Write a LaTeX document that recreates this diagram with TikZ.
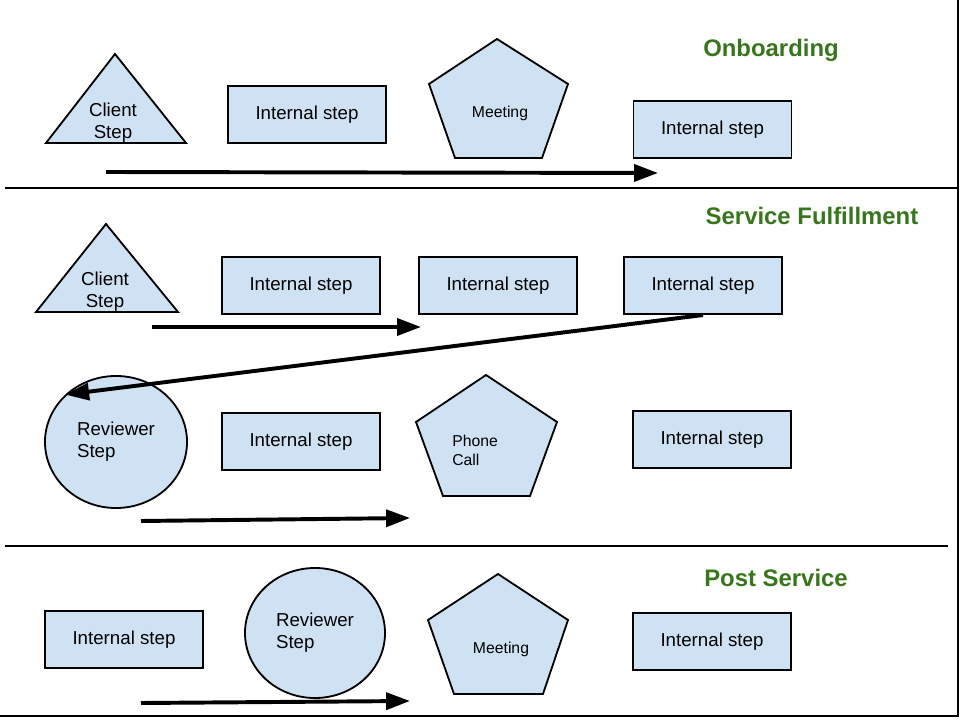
\documentclass[tikz,border=0pt]{standalone}
\usepackage{fontspec}
\setmainfont{Liberation Sans}
\usetikzlibrary{arrows.meta,shapes.geometric}
\definecolor{stepblue}{HTML}{CFE2F3}
\definecolor{lanegreen}{HTML}{38761D}
\begin{document}
\begin{tikzpicture}[x=0.025cm, y=-0.025cm, >={Triangle[length=17pt,width=12pt]},
    stepbox/.style={draw, fill=stepblue, line width=1.3pt, minimum width=3.95cm, minimum height=1.43cm, font=\fontsize{13.3}{15.5}\selectfont},
    stepshape/.style={draw, fill=stepblue, line width=1.3pt},
    reviewer/.style={ellipse, draw, fill=stepblue, line width=1.3pt, inner sep=0pt, align=left, font=\fontsize{13.3}{15.5}\selectfont},
    steptext/.style={inner sep=0pt, align=center, font=\fontsize{13.3}{15.5}\selectfont},
    smalltext/.style={inner sep=0pt, font=\fontsize{11.2}{13.8}\selectfont},
    lane/.style={inner sep=0pt, font=\fontsize{17}{20}\selectfont\bfseries, text=lanegreen},
    flow/.style={->, line width=2.8pt},
    divider/.style={line width=1.4pt}]
    \useasboundingbox (0,0) rectangle (960,720);
    % frame and lanes
    \draw[divider] (958,0) -- (958,716) -- (0,716);
    \draw[divider] (5,188) -- (958,188);
    \draw[divider] (5,546) -- (948,546);
    \node[lane] (onb) at (771,50) {Onboarding};
    \node[lane] (serv) at (812,216) {Service Fulfillment};
    \node[lane] (post) at (776,578) {Post Service};
    % onboarding
    \draw[stepshape] (115,54) -- (186,143) -- (46,143) -- cycle;
    \node[steptext] (ob1) at (113,123) {Client\\Step};
    \node[stepbox] (ob2) at (307,114.5) {Internal step};
    \draw[stepshape] (497,39) -- (568,84) -- (542,158) -- (455,158) -- (429,84) -- cycle;
    \node[smalltext] (ob3) at (500,113) {Meeting};
    \node[stepbox] (ob4) at (712.5,129.5) {Internal step};
    \coordinate (oba) at (106,172);
    \coordinate (obb) at (658,173);
    \draw[flow] (oba) -- (obb);
    % service fulfillment
    \draw[stepshape] (106,224) -- (178,312) -- (36,312) -- cycle;
    \node[steptext] (sf1) at (105,292) {Client\\Step};
    \node[stepbox] (sf2) at (301,285.5) {Internal step};
    \node[stepbox] (sf3) at (498,285.5) {Internal step};
    \node[stepbox] (sf4) at (703,285.5) {Internal step};
    \coordinate (sfa) at (152,327);
    \coordinate (sfb) at (421,327);
    \draw[flow] (sfa) -- (sfb);
    \node[reviewer, minimum width=3.55cm, minimum height=3.3cm] (sf5) at (116,442) {Reviewer\\Step};
    \draw[flow] (sf4.south) -- (sf5.137);
    \node[stepbox] (sf6) at (301,441.5) {Internal step};
    \draw[stepshape] (486,375) -- (557,422) -- (530,496) -- (443,496) -- (416,422) -- cycle;
    \node[smalltext, anchor=west, align=left] (sf7) at (452,450.5) {Phone\\Call};
    \node[stepbox] (sf8) at (712,439.5) {Internal step};
    \coordinate (sfc) at (141,521);
    \coordinate (sfd) at (410,518);
    \draw[flow] (sfc) -- (sfd);
    % post service
    \node[stepbox] (ps1) at (124,639.5) {Internal step};
    \node[reviewer, minimum width=3.5cm, minimum height=3.25cm] (ps2) at (315,633) {Reviewer\\Step};
    \draw[stepshape] (498,574) -- (568,620) -- (543,694) -- (454,694) -- (428,620) -- cycle;
    \node[smalltext] (ps3) at (501,649) {Meeting};
    \node[stepbox] (ps4) at (712,641.5) {Internal step};
    \coordinate (psa) at (141,703);
    \coordinate (psb) at (410,701);
    \draw[flow] (psa) -- (psb);
\end{tikzpicture}
\end{document}
